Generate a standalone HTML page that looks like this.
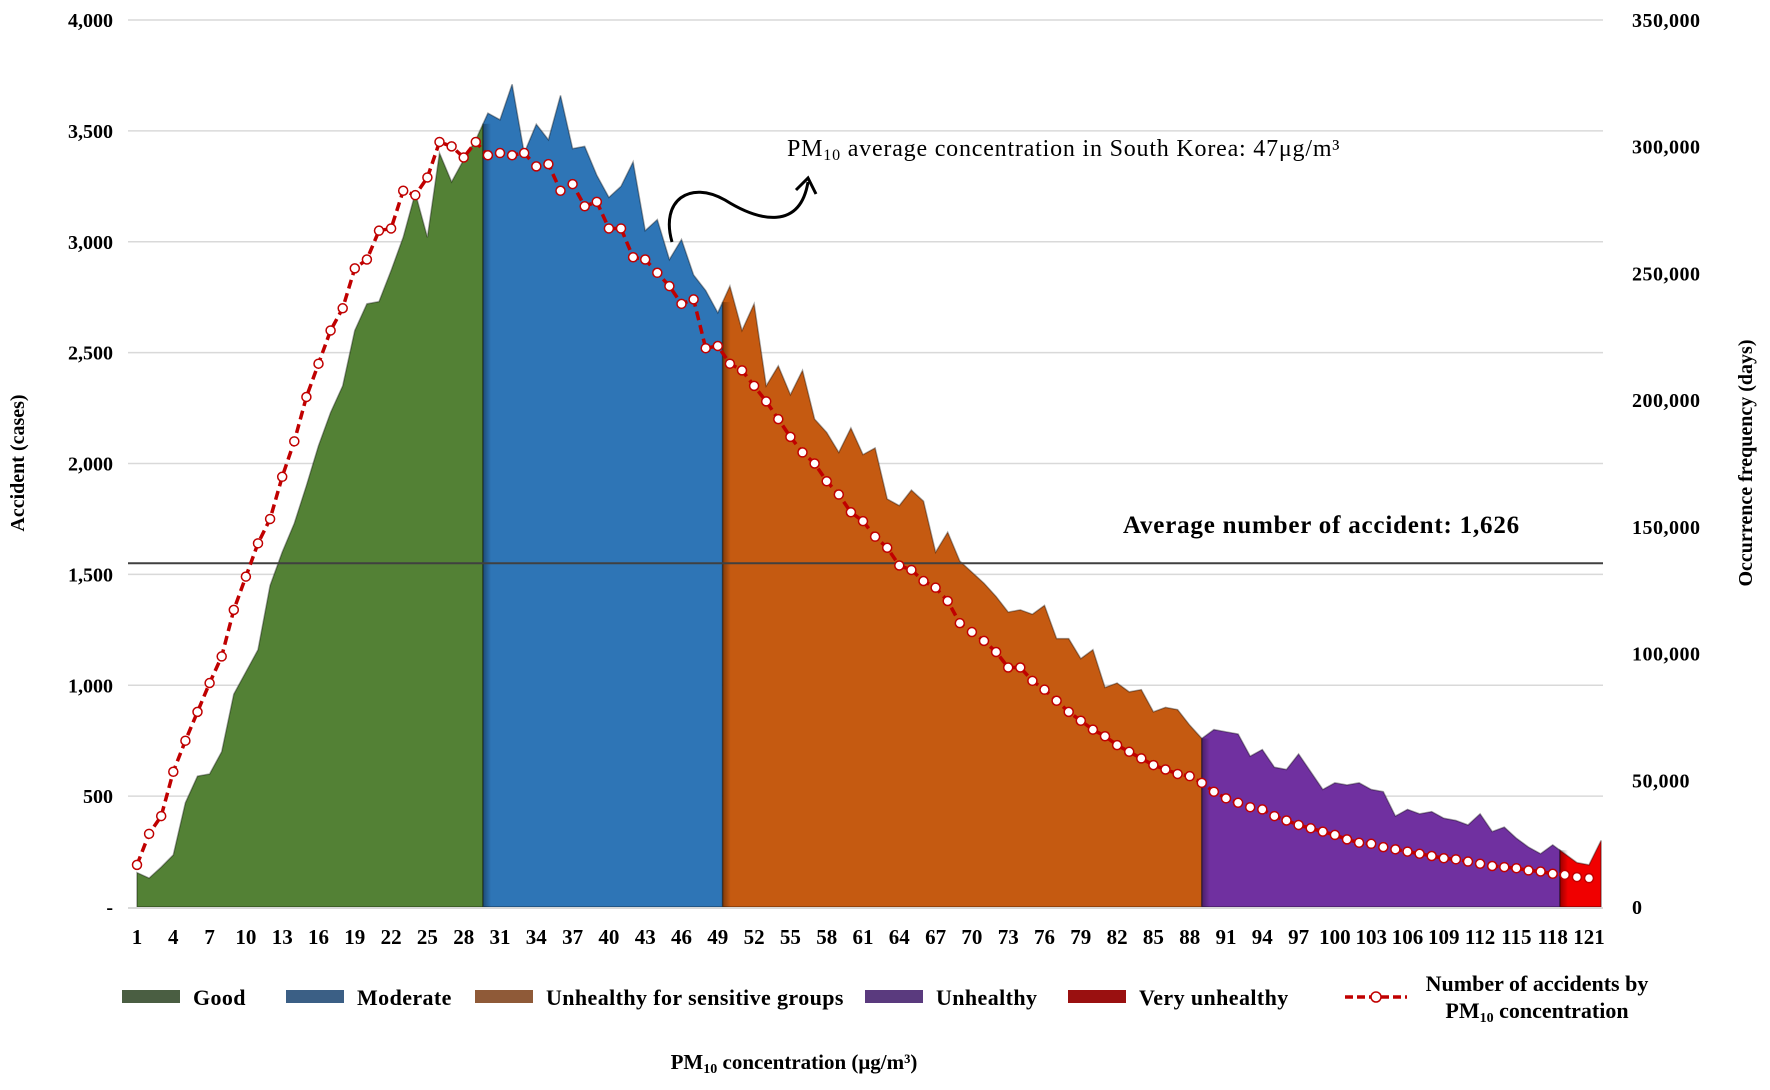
<!DOCTYPE html>
<html><head><meta charset="utf-8">
<style>
html,body{margin:0;padding:0;background:#fff;}
svg{display:block;font-family:"Liberation Serif",serif;font-weight:bold;}
</style></head>
<body>
<svg id="chart" width="1770" height="1090" viewBox="0 0 1770 1090" xmlns="http://www.w3.org/2000/svg">
<defs>
<linearGradient id="edgeShade" x1="0" x2="1" y1="0" y2="0">
<stop offset="0" stop-color="#000" stop-opacity="0.35"/><stop offset="1" stop-color="#000" stop-opacity="0"/>
</linearGradient>
</defs>
<g id="grid"></g>
<g id="areas"></g>
<g id="avg"></g>
<g id="line"></g>
<g id="axes"></g>
<text x="24" y="463" transform="rotate(-90 24 463)" text-anchor="middle" font-size="20">Accident (cases)</text>
<text x="1752" y="463" transform="rotate(-90 1752 463)" text-anchor="middle" font-size="20">Occurrence frequency (days)</text>
<text x="794" y="1069" text-anchor="middle" font-size="21">PM<tspan font-size="14" dy="4">10</tspan><tspan dy="-4"> concentration (μg/m³)</tspan></text>
<text x="787" y="156" font-size="24" font-weight="normal" letter-spacing="0.8">PM<tspan font-size="16" dy="4">10</tspan><tspan dy="-4"> average concentration in South Korea: 47μg/m³</tspan></text>
<path d="M672 242 C 660 200, 690 180, 725 200 C 760 222, 800 230, 808 182" fill="none" stroke="#000" stroke-width="3"/>
<path d="M796 190 L808 178 L816 194" fill="none" stroke="#000" stroke-width="3"/>
<text x="1123" y="533" font-size="25" letter-spacing="0.8">Average number of accident: 1,626</text>
<g id="legend"></g>
</svg>
<script>
const categories = [];
for (let i = 1; i <= 122; i++) categories.push(i);
const occurrenceCasesEquiv = [155,130,180,235,470,590,600,700,960,1060,1160,1450,1600,1730,1900,2080,2230,2350,2600,2720,2730,2870,3020,3220,3020,3400,3270,3370,3460,3580,3550,3710,3400,3530,3460,3660,3420,3430,3300,3200,3250,3360,3050,3100,2920,3010,2850,2780,2680,2800,2600,2720,2350,2440,2310,2420,2200,2140,2050,2160,2040,2070,1840,1810,1880,1830,1600,1690,1560,1510,1460,1400,1330,1340,1320,1360,1210,1210,1120,1160,990,1010,970,980,880,900,890,820,760,800,790,780,680,710,630,620,690,610,530,560,550,560,530,520,410,440,420,430,400,390,370,420,340,360,310,270,240,280,240,200,190,300];
const occurrenceDays = occurrenceCasesEquiv.map(v => v * 87.5);
const accidents = [190,330,410,610,750,880,1010,1130,1340,1490,1640,1750,1940,2100,2300,2450,2600,2700,2880,2920,3050,3060,3230,3210,3290,3450,3430,3380,3450,3390,3400,3390,3400,3340,3350,3230,3260,3160,3180,3060,3060,2930,2920,2860,2800,2720,2740,2520,2530,2450,2420,2350,2280,2200,2120,2050,2000,1920,1860,1780,1740,1670,1620,1540,1520,1470,1440,1380,1280,1240,1200,1150,1080,1080,1020,980,930,880,840,800,770,730,700,670,640,620,600,590,560,520,490,470,450,440,410,390,370,355,340,325,305,290,285,270,260,250,240,230,220,215,205,195,185,180,175,165,160,150,145,135,130];
const averageLine = 1550;
const leftTicks = [0,500,1000,1500,2000,2500,3000,3500,4000];
const leftTickLabels = ["-","500","1,000","1,500","2,000","2,500","3,000","3,500","4,000"];
const rightTicks = [0,50000,100000,150000,200000,250000,300000,350000];
const rightTickLabels = ["0","50,000","100,000","150,000","200,000","250,000","300,000","350,000"];
const bandBreaks = [1, 29.6, 49.4, 89, 118.6, 122];
const bandNames = ["Good","Moderate","Unhealthy for sensitive groups","Unhealthy","Very unhealthy"];
const bandColors = ["#538135","#2e75b6","#c55a11","#7030a0","#f00000"];
const legendColors = ["#4a5e42","#3b5f85","#8f5a38","#5a3a7e","#9a1010"];

const NS = "http://www.w3.org/2000/svg";
const X0 = 137, DX = 12.1, Y0 = 907, YTOP = 20, PL = 128, PR = 1603;
const x = c => X0 + (c - 1) * DX;
const yL = v => Y0 - v / 4000 * (Y0 - YTOP);
const yR = v => Y0 - v / 350000 * (Y0 - YTOP);
function mk(tag, attrs, parent) {
  const e = document.createElementNS(NS, tag);
  for (const k in attrs) e.setAttribute(k, attrs[k]);
  parent.appendChild(e);
  return e;
}
const grid = document.getElementById('grid');
leftTicks.forEach((t, i) => {
  if (i > 0) {
    const g = mk('line', {x1: PL, x2: PR, y1: yL(t), y2: yL(t), stroke: '#d9d9d9', 'stroke-width': 1.5}, grid);
    
    
  }
});
const axes = document.getElementById('axes');
const base = mk('line', {x1: PL, x2: PR, y1: Y0 + 1, y2: Y0 + 1, stroke: '#d9d9d9', 'stroke-width': 2}, axes);


leftTicks.forEach((t, i) => {
  const tx = mk('text', {x: 113, y: yL(t) + 7, 'text-anchor': 'end', 'font-size': 20}, axes);
  tx.textContent = leftTickLabels[i];
  
  
});
rightTicks.forEach((t, i) => {
  const tx = mk('text', {x: 1632, y: yR(t) + 7, 'text-anchor': 'start', 'font-size': 20, 'letter-spacing': 0.5}, axes);
  tx.textContent = rightTickLabels[i];
  
  
});
categories.forEach(c => {
  if ((c - 1) % 3 === 0) {
    const tx = mk('text', {x: x(c), y: 944, 'text-anchor': 'middle', 'font-size': 21}, axes);
    tx.textContent = c;
    
    
  }
});
const areas = document.getElementById('areas');
function valAt(c) {
  const i = Math.floor(c) - 1, f = c - Math.floor(c);
  if (i >= occurrenceDays.length - 1) return occurrenceDays[occurrenceDays.length - 1];
  return occurrenceDays[i] * (1 - f) + occurrenceDays[i + 1] * f;
}
for (let b = 0; b < bandNames.length; b++) {
  const s = bandBreaks[b], e = bandBreaks[b + 1];
  let pts = [[x(s), Y0], [x(s), yR(valAt(s))]];
  categories.forEach(c => { if (c > s && c < e) pts.push([x(c), yR(occurrenceDays[c - 1])]); });
  pts.push([x(e), yR(valAt(e))], [x(e), Y0]);
  const p = mk('polygon', {points: pts.map(p => p.join(',')).join(' '), fill: bandColors[b], stroke: 'rgba(0,0,0,0.35)', 'stroke-width': 1.5}, areas);
  
  
  if (b > 0) {
    const sh = mk('rect', {x: x(s), y: yR(valAt(s)), width: 8, height: Y0 - yR(valAt(s)), fill: 'url(#edgeShade)'}, areas);
    
    
  }
}
const avg = document.getElementById('avg');
const al = mk('line', {x1: PL, x2: PR, y1: yL(averageLine), y2: yL(averageLine), stroke: '#404040', 'stroke-width': 2}, avg);


const lg = document.getElementById('line');
const lp = mk('polyline', {points: accidents.map((v, i) => x(categories[i]) + ',' + yL(v)).join(' '), fill: 'none', stroke: '#c00000', 'stroke-width': 3.5, 'stroke-dasharray': '9 5'}, lg);


accidents.forEach((v, i) => {
  const c = mk('circle', {cx: x(categories[i]), cy: yL(v), r: 4.5, fill: '#fff', stroke: '#c00000', 'stroke-width': 1.5}, lg);
  
  
});
const leg = document.getElementById('legend');
const legX = [122, 286, 475, 865, 1068];
bandNames.forEach((n, i) => {
  const r = mk('rect', {x: legX[i], y: 990, width: 58, height: 13, fill: legendColors[i]}, leg);
  
  
  const t = mk('text', {x: legX[i] + 71, y: 1005, 'font-size': 22, 'letter-spacing': 0.4}, leg);
  t.textContent = n;
  
  
});
const ll = mk('line', {x1: 1345, x2: 1407, y1: 997, y2: 997, stroke: '#c00000', 'stroke-width': 3.5, 'stroke-dasharray': '8 4'}, leg);


const lc = mk('circle', {cx: 1376, cy: 997, r: 5, fill: '#fff', stroke: '#c00000', 'stroke-width': 1.5}, leg);


const lt1 = mk('text', {x: 1537, y: 991, 'text-anchor': 'middle', 'font-size': 22}, leg);
lt1.textContent = 'Number of accidents by';


const lt2 = mk('text', {x: 1537, y: 1018, 'text-anchor': 'middle', 'font-size': 22}, leg);
lt2.innerHTML = 'PM<tspan font-size="14" dy="4">10</tspan><tspan dy="-4"> concentration</tspan>';


</script>
</body></html>
